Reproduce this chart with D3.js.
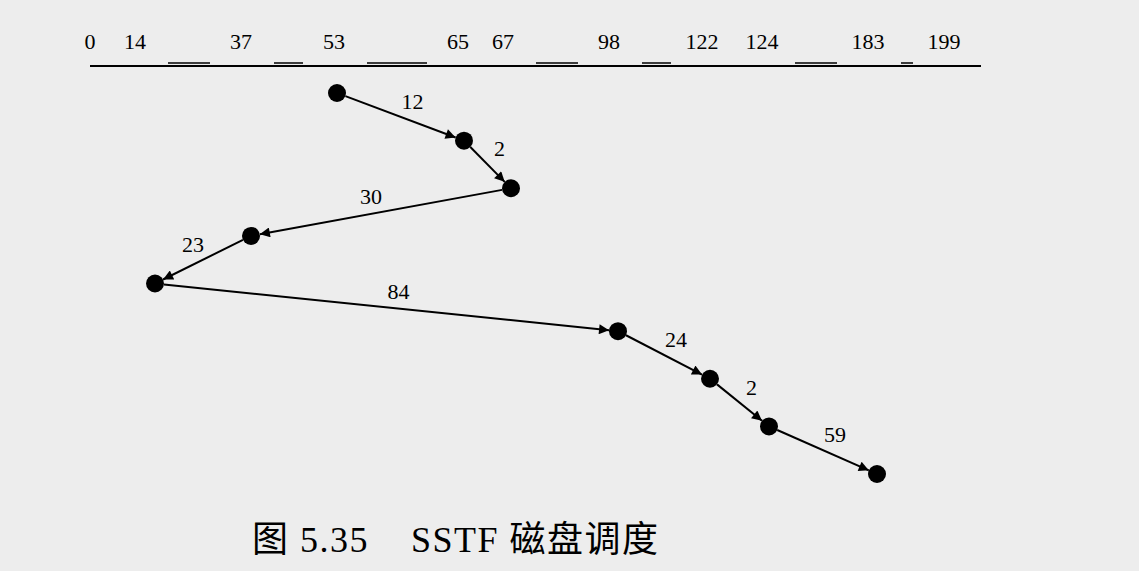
<!DOCTYPE html>
<html><head><meta charset="utf-8">
<script src="https://cdn.jsdelivr.net/npm/d3@7/dist/d3.min.js"></script>
<style>body{margin:0;background:#ededed}</style></head>
<body><svg id="c" width="1139" height="571"></svg>
<script>
const tracks = [0,14,37,53,65,67,98,122,124,183,199];
const sequence = [53,65,67,37,14,98,122,124,183];
const caption = "图 5.35    SSTF 磁盘调度";

const svg = d3.select("#c");
svg.append("rect").attr("width",1139).attr("height",571).attr("fill","#ededed");
const labelX = d3.scaleLinear().domain(tracks).range([90,135,241,334,458,503,609,702,762,868,944]);
const pointX = d3.scaleLinear().domain(tracks).range([90,155,251,337,464,511,618,710,769,877,944]);
const y = d3.scalePoint().domain(d3.range(sequence.length)).range([93,474]);

svg.append("defs").append("marker").attr("id","ah").attr("viewBox","0 0 10 10")
 .attr("refX",10).attr("refY",5).attr("markerWidth",14).attr("markerHeight",10)
 .attr("markerUnits","userSpaceOnUse").attr("orient","auto")
 .append("path").attr("d","M0,0L10,5L0,10z").attr("fill","#000");

svg.append("line").attr("x1",90).attr("x2",981).attr("y1",66).attr("y2",66).attr("stroke","#000").attr("stroke-width",2);
const gaps=[[1,2],[2,3],[3,4],[5,6],[6,7],[8,9],[9,10]];
svg.selectAll(".gap").data(gaps).join("line")
 .attr("x1",d=>labelX(tracks[d[0]])+33).attr("x2",d=>labelX(tracks[d[1]])-31)
 .attr("y1",63).attr("y2",63).attr("stroke","#000").attr("stroke-width",1.5);
svg.selectAll(".tl").data(tracks).join("text")
 .attr("x",d=>labelX(d)).attr("y",49).attr("text-anchor","middle")
 .attr("font-family","'Liberation Serif', serif").attr("font-size",22).text(d=>d);

const segs = d3.pairs(sequence.map((v,i)=>({v,i})));
const r=9;
svg.selectAll(".seg").data(segs).join("line")
 .each(function([a,b]){
   const x1=pointX(a.v),y1=y(a.i),x2=pointX(b.v),y2=y(b.i);
   const L=Math.hypot(x2-x1,y2-y1),ux=(x2-x1)/L,uy=(y2-y1)/L;
   d3.select(this).attr("x1",x1+ux*r).attr("y1",y1+uy*r).attr("x2",x2-ux*r).attr("y2",y2-uy*r);
 }).attr("stroke","#000").attr("stroke-width",2).attr("marker-end","url(#ah)");
svg.selectAll(".dl").data(segs).join("text")
 .attr("x",([a,b])=>(pointX(a.v)+pointX(b.v))/2+(b.v>a.v?12:-10))
 .attr("y",([a,b])=>(y(a.i)+y(b.i))/2-8)
 .attr("text-anchor","middle").attr("font-family","'Liberation Serif', serif").attr("font-size",22)
 .text(([a,b])=>Math.abs(b.v-a.v));
svg.selectAll(".pt").data(sequence).join("circle")
 .attr("cx",d=>pointX(d)).attr("cy",(d,i)=>y(i)).attr("r",r).attr("fill","#000");
svg.append("text").attr("x",252).attr("y",552).attr("font-family","'Liberation Serif', 'Noto Sans CJK SC', serif")
 .attr("font-size",36).attr("letter-spacing",1.5).style("white-space","pre").text(caption);
</script></body></html>
